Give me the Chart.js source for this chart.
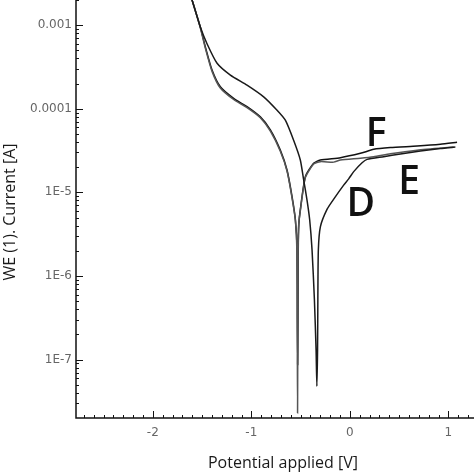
<!DOCTYPE html>
<html>
<head>
<meta charset="utf-8">
<script src="https://cdn.jsdelivr.net/npm/chart.js@4.4.0/dist/chart.umd.min.js"></script>
<style>
html, body { margin: 0; padding: 0; background: #fff; }
</style>
</head>
<body>
<canvas id="tafelChart" width="474" height="473"></canvas>
<script>
// potential [V] and current [A]
var dVolt = [-1.634, -1.602, -1.518, -1.450, -1.348, -1.213, -1.044, -0.875, -0.739, -0.655, -0.571, -0.503, -0.469, -0.435, -0.408, -0.384, -0.360, -0.343, -0.335, -0.328, -0.325, -0.320, -0.299, -0.231, -0.164, -0.063, -0.012, 0.039, 0.124, 0.175, 0.343, 0.513, 0.716, 0.919, 1.071];
var dAmp = [2.6e-3, 2.0e-3, 9.5e-4, 6.0e-4, 3.5e-4, 2.53e-4, 1.92e-4, 1.39e-4, 9.6e-5, 7.3e-5, 4.2e-5, 2.44e-5, 1.41e-5, 8.1e-6, 4.7e-6, 2.05e-6, 5.2e-7, 1.3e-7, 4.8e-8, 1.3e-7, 5.2e-7, 2.05e-6, 3.9e-6, 6.3e-6, 8.3e-6, 1.22e-5, 1.45e-5, 1.77e-5, 2.26e-5, 2.48e-5, 2.67e-5, 2.88e-5, 3.13e-5, 3.35e-5, 3.48e-5];

var eVolt = [-1.634, -1.602, -1.518, -1.467, -1.399, -1.315, -1.180, -1.044, -0.909, -0.807, -0.706, -0.638, -0.587, -0.553, -0.538, -0.534, -0.531, -0.528, -0.525, -0.520, -0.503, -0.452, -0.368, -0.300, -0.164, -0.096, 0.107, 0.242, 0.411, 0.682, 1.054];
var eAmp = [2.6e-3, 2.0e-3, 9.3e-4, 5.3e-4, 2.8e-4, 1.77e-4, 1.29e-4, 1.03e-4, 7.8e-5, 5.4e-5, 3.1e-5, 1.8e-5, 8.6e-6, 4.6e-6, 2.0e-6, 3.0e-7, 2.3e-8, 3.0e-7, 2.0e-6, 4.0e-6, 6.0e-6, 1.5e-5, 2.18e-5, 2.33e-5, 2.3e-5, 2.44e-5, 2.56e-5, 2.67e-5, 2.9e-5, 3.2e-5, 3.5e-5];

var fVolt = [-1.634, -1.602, -1.518, -1.467, -1.399, -1.315, -1.180, -1.044, -0.909, -0.807, -0.706, -0.638, -0.587, -0.553, -0.536, -0.533, -0.530, -0.527, -0.524, -0.518, -0.503, -0.452, -0.368, -0.300, -0.096, 0.107, 0.242, 0.411, 0.682, 0.919, 1.088];
var fAmp = [2.6e-3, 2.0e-3, 9.5e-4, 5.5e-4, 2.9e-4, 1.83e-4, 1.33e-4, 1.06e-4, 8.0e-5, 5.6e-5, 3.2e-5, 1.85e-5, 8.9e-6, 4.7e-6, 2.05e-6, 3.0e-7, 8.7e-8, 3.0e-7, 2.05e-6, 4.2e-6, 6.2e-6, 1.54e-5, 2.23e-5, 2.44e-5, 2.6e-5, 2.93e-5, 3.27e-5, 3.43e-5, 3.58e-5, 3.76e-5, 3.97e-5];

var curveNames = ['D', 'E', 'F'];
var xTicks = [-2, -1, 0, 1];
var yTicks = [1e-7, 1e-6, 1e-5, 1e-4, 1e-3];
var yTickLabels = ['1E-7', '1E-6', '1E-5', '0.0001', '0.001'];

function toPoints(xs, ys) {
    return xs.map(function (v, i) { return { x: v, y: ys[i] }; });
}

// where the D/E/F letters sit (data coords, left/baseline)
var letterSpots = { D: [-0.035, 5.2e-6], E: [0.49, 9.6e-6], F: [0.16, 3.6e-5] };

var axesPlugin = {
    id: 'axesPlugin',
    afterDraw: function (chart) {
        var ctx = chart.ctx;
        var a = chart.chartArea;
        var xs = chart.scales.x, ys = chart.scales.y;
        ctx.save();
        ctx.strokeStyle = '#111';
        ctx.lineWidth = 1.5;
        ctx.beginPath();
        ctx.moveTo(a.left, a.top);
        ctx.lineTo(a.left, a.bottom);
        ctx.lineTo(a.right, a.bottom);
        ctx.stroke();

        ctx.lineWidth = 1;
        ctx.beginPath();
        for (var i = -28; i <= 12; i++) {
            var px = Math.round(xs.getPixelForValue(i / 10)) + 0.5;
            if (px < a.left + 1 || px > a.right) continue;
            var len = (i % 10 === 0) ? 7 : 3;
            ctx.moveTo(px, a.bottom);
            ctx.lineTo(px, a.bottom - len);
        }
        for (var d = -8; d <= -3; d++) {
            for (var m = 1; m <= 9; m++) {
                var py = Math.round(ys.getPixelForValue(m * Math.pow(10, d))) + 0.5;
                if (py < a.top || py > a.bottom - 1) continue;
                var l = (m === 1) ? 7 : 3;
                ctx.moveTo(a.left, py);
                ctx.lineTo(a.left + l, py);
            }
        }
        ctx.stroke();

        // axis titles
        ctx.fillStyle = '#1a1a1a';
        ctx.font = '16px "Open Sans"';
        ctx.textAlign = 'center';
        ctx.textBaseline = 'alphabetic';
        ctx.fillText('Potential applied [V]', 283, 468);
        ctx.translate(15, 212);
        ctx.rotate(-Math.PI / 2);
        ctx.fillText('WE (1). Current [A]', 0, 0);
        ctx.setTransform(1, 0, 0, 1, 0, 0);

        // curve letters
        ctx.fillStyle = '#111';
        ctx.font = '600 39px "Open Sans"';
        ctx.textAlign = 'left';
        curveNames.forEach(function (n) {
            var s = letterSpots[n];
            ctx.fillText(n, xs.getPixelForValue(s[0]), ys.getPixelForValue(s[1]));
        });
        ctx.restore();
    }
};

new Chart(document.getElementById('tafelChart'), {
    type: 'scatter',
    data: {
        datasets: [
            { label: 'D', data: toPoints(dVolt, dAmp), borderColor: '#1a1a1a' },
            { label: 'E', data: toPoints(eVolt, eAmp), borderColor: '#555' },
            { label: 'F', data: toPoints(fVolt, fAmp), borderColor: '#111' }
        ]
    },
    options: {
        responsive: false,
        animation: false,
        devicePixelRatio: 1,
        layout: { padding: 0 },
        showLine: true,
        elements: {
            point: { radius: 0, hoverRadius: 0 },
            line: { borderWidth: 1.5, tension: 0.2, fill: false }
        },
        plugins: { legend: { display: false }, tooltip: { enabled: false } },
        scales: {
            x: {
                type: 'linear',
                min: -2.78,
                max: 1.26,
                afterBuildTicks: function (s) { s.ticks = xTicks.map(function (v) { return { value: v }; }); },
                afterFit: function (s) { s.height = 55; s.paddingLeft = 0; s.paddingRight = 0; },
                grid: { display: false, drawTicks: false },
                border: { display: false },
                ticks: {
                    color: '#666',
                    padding: 8,
                    maxRotation: 0,
                    font: { family: 'DejaVu Sans', size: 12 },
                    callback: function (v) { return String(v); }
                }
            },
            y: {
                type: 'logarithmic',
                min: 2e-8,
                max: 2e-3,
                afterBuildTicks: function (s) { s.ticks = yTicks.map(function (v) { return { value: v }; }); },
                afterFit: function (s) { s.width = 76; s.paddingTop = 0; s.paddingBottom = 0; },
                grid: { display: false, drawTicks: false },
                border: { display: false },
                ticks: {
                    color: '#666',
                    padding: 4,
                    font: { family: 'DejaVu Sans', size: 12 },
                    callback: function (v) { return yTickLabels[yTicks.indexOf(v)]; }
                }
            }
        }
    },
    plugins: [axesPlugin]
});
</script>
</body>
</html>
